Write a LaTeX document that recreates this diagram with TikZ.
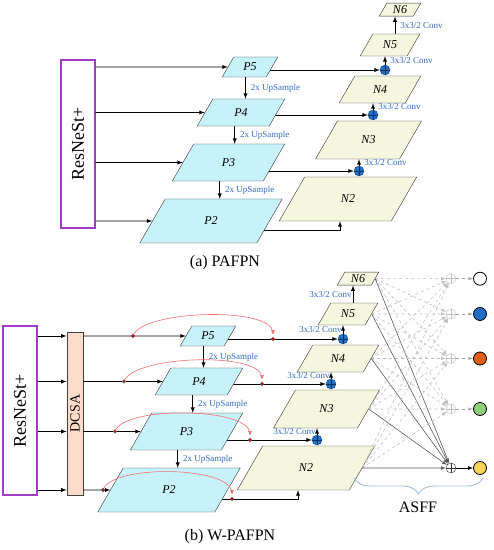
\documentclass[tikz,border=0pt]{standalone}
\usepackage{fontspec}
\setmainfont{Liberation Serif}
\usetikzlibrary{arrows}
\usetikzlibrary{shapes}
\usetikzlibrary{backgrounds}
\usetikzlibrary{calc}
\usetikzlibrary{decorations.pathreplacing}
\usetikzlibrary{positioning}
\definecolor{pcyan}{RGB}{200,242,250}
\definecolor{ncream}{RGB}{245,246,222}
\definecolor{sblue}{RGB}{30,110,200}
\definecolor{lblue}{RGB}{50,105,190}
\definecolor{rpurple}{RGB}{160,60,200}
\definecolor{dpeach}{RGB}{251,220,200}
\definecolor{oorange}{RGB}{226,96,20}
\definecolor{ogreen}{RGB}{145,208,125}
\definecolor{oyellow}{RGB}{247,212,85}
\definecolor{rline}{RGB}{240,110,110}
\definecolor{bracecol}{RGB}{160,190,220}

\tikzset{
  layer/.style={trapezium, trapezium left angle=60, trapezium right angle=120,
    draw=black!80, inner sep=0pt, align=center,
    font=\fontsize{12}{13}\selectfont\itshape},
  player/.style={layer, fill=pcyan},
  nlayer/.style={layer, fill=ncream},
  bsum/.style={circle, fill=sblue, draw=sblue!70!black, minimum size=10pt, inner sep=0pt,
    path picture={\draw[sblue!45!black, line width=0.5pt]
      (path picture bounding box.north) -- (path picture bounding box.south)
      (path picture bounding box.west) -- (path picture bounding box.east);}},
  fsum/.style={circle, draw=#1, fill=white, minimum size=10pt, inner sep=0pt,
    path picture={\draw[#1]
      (path picture bounding box.north) -- (path picture bounding box.south)
      (path picture bounding box.west) -- (path picture bounding box.east);}},
  outc/.style={circle, draw=black, line width=0.8pt, minimum size=13pt, inner sep=0pt},
  rbox/.style={draw=rpurple, line width=1.3pt, fill=white, inner sep=0pt,
    font=\fontsize{18}{20}\selectfont},
  dbox/.style={draw=black!75, line width=0.8pt, fill=dpeach, inner sep=0pt,
    font=\fontsize{14}{16}\selectfont},
  blabel/.style={font=\fontsize{9}{10}\selectfont, text=lblue, inner sep=1pt},
  conn/.style={-latex, line width=0.9pt},
  rdot/.style={circle, fill=red!85!black, draw=black!60, minimum size=3.5pt, inner sep=0pt},
  rarc/.style={-stealth', rline, line width=0.6pt},
  fuse/.style={-latex, black!65, line width=0.6pt},
  fusedash/.style={-latex, dashed, black!25, line width=0.6pt},
  caption/.style={font=\fontsize{16}{18}\selectfont}
}

\begin{document}
\begin{tikzpicture}[x=1pt, y=1pt]
    \useasboundingbox (0,0) rectangle (494,550);

    \foreach \q/\dx/\dy in {a/0/0, b/-42/-269} {
      \begin{scope}[shift={(\dx,\dy)}]
        \foreach \n/\x/\y/\w/\h in {5/250/483/44/20, 4/241/437.5/72/27, 3/228.5/387.5/91/37, 2/211/329/117/44} {
          \pgfmathsetmacro\tw{\w-0.577*\h}
          \pgfmathsetmacro\th{\h/2+3.9}
          \pgfmathsetmacro\td{\h/2-3.9}
          \node[player, text width=\tw pt, text height=\th pt, text depth=\td pt] (\q P\n) at (\x,\y) {P\n};
        }
        \foreach \n/\x/\y/\w/\h in {6/400/540.3/34/13, 5/390/505/47/22, 4/380/460.5/66/27, 3/368.5/410/84/38, 2/348/351/112/44} {
          \pgfmathsetmacro\tw{\w-0.577*\h}
          \pgfmathsetmacro\th{\h/2+3.9}
          \pgfmathsetmacro\td{\h/2-3.9}
          \node[nlayer, text width=\tw pt, text height=\th pt, text depth=\td pt] (\q N\n) at (\x,\y) {N\n};
        }
        \foreach \n/\x/\y in {5/385/480, 4/373/435, 3/359/379}
          \node[bsum] (\q S\n) at (\x,\y) {};
        \coordinate (\q K) at (340,320);
      \end{scope}
    }

    \foreach \q/\anc/\gap in {a/west/4pt, b/east/0pt} {
      \foreach \n/\m in {5/4, 4/3, 3/2} {
        \coordinate (\q U\n) at ($(\q P\n)!0.5!(\q P\m)$);
        \draw[conn] (\q U\n |- \q P\n.south) -- (\q U\n |- \q P\m.north)
          node[midway, anchor=west, xshift=4pt, blabel] {2x UpSample};
      }
      \foreach \n in {5,4,3}
        \draw[conn] (\q S\n) -- (\q S\n |- \q N\n.south)
          node[midway, anchor=\anc, xshift=\gap, blabel] {3x3/2 Conv};
      \coordinate (\q M) at ($(\q N5)!0.5!(\q N6)$);
      \draw[conn] (\q M |- \q N5.north) -- (\q M |- \q N6.south)
        node[midway, anchor=\anc, xshift=\gap, blabel] {3x3/2 Conv};
      \begin{scope}[on background layer]
        \foreach \n in {5,4,3}
          \draw[conn] (\q P\n |- \q S\n) -- (\q S\n);
        \draw[conn] (\q P2 |- \q K) -- (\q K) -- (\q K |- \q N2.south);
      \end{scope}
    }

    % (a) PAFPN
    \node[rbox, minimum width=34, minimum height=168] (aR) at (78,406) {\rotatebox{90}{ResNeSt+}};
    \foreach \n in {5,4,3,2}
      \draw[conn] (aR.east |- aP\n) -- (aP\n);
    \node[caption] (acap) at (225,287) {(a) PAFPN};

    % (b) W-PAFPN
    \node[rbox, minimum width=34, minimum height=169] (bR) at (20,139.5) {\rotatebox{90}{ResNeSt+}};
    \node[dbox, minimum width=16, minimum height=163] (bD) at (75,136.5) {\rotatebox{90}{DCSA}};
    \foreach \n/\i/\o/\t in {5/133/273/S5, 4/124/262/S4, 3/115/250/S3, 2/103/232/K} {
      \draw[conn] (bR.east |- bP\n) -- (bD.west |- bP\n);
      \draw[conn] (bD.east |- bP\n) -- (bP\n);
      \coordinate (ri\n) at (\i,0 |- bP\n);
      \coordinate (ro\n) at (b\t -| \o,0);
      \draw[rarc] (ri\n) .. controls +(8,26) and +(0,28) .. ($(ro\n)+(0,5)$);
      \node[rdot] (di\n) at (ri\n) {};
      \node[rdot] (do\n) at (ro\n) {};
    }

    % ASFF
    \foreach \n/\c in {6/white, 5/sblue, 4/oorange, 3/ogreen, 2/oyellow}
      \node[outc, fill=\c] (O\n) at (480,0 |- bN\n) {};
    \foreach \n in {6,5,4,3}
      \node[fsum=black!25] (F\n) at (451,0 |- bN\n) {};
    \node[fsum=black!80] (F2) at (451,0 |- bN2) {};
    \foreach \i in {6,5,4,3,2} {
      \foreach \j in {6,5,4,3}
        \draw[fusedash] (bN\i.east) -- (F\j);
      \draw[fuse] (bN\i.east) -- (F2);
    }
    \foreach \j in {6,5,4,3}
      \draw[fusedash, black!35] (F\j) -- (O\j);
    \draw[conn, line width=0.7pt] (F2) -- (O2);
    \draw[bracecol, line width=0.9pt, decorate, decoration={brace, mirror, amplitude=16pt}] (354,72) -- (483,72);
    \node[caption] (asff) at (418,43) {ASFF};
    \node[caption] (bcap) at (230,13) {(b) W-PAFPN};
\end{tikzpicture}
\end{document}
